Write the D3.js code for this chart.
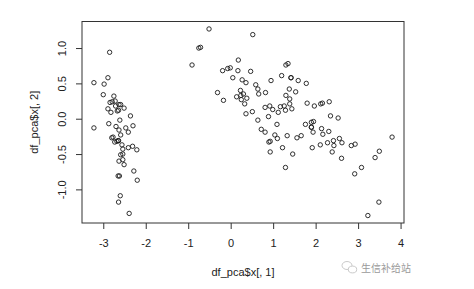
<!doctype html>
<html lang="zh">
<head>
  <meta charset="utf-8">
  <title>df_pca$x</title>
  <style type="text/css">
    body{
      margin:0;
      background:#fff;
    }
    text{
      font-size:11px;
      font-family: "Liberation Sans", Arial, Helvetica, sans-serif;
      fill:#222;
    }
    .pts circle{
      fill:none;
      stroke:#1a1a1a;
      stroke-width:0.9;
    }
    .tick line{
      stroke:#333;
    }
    .wm{
      font-family:"Noto Sans CJK SC", sans-serif;
      font-size:10px;
      fill:#9a9a9a;
    }
  </style>
</head>
<body>
  <div id="vis"></div>
  <script src="https://d3js.org/d3.v7.min.js"></script>
  <script type="text/javascript">

    var width = 474,
      height = 289;

    // scores (PC1 / PC2)
    var pc1 = [
      -2.68,-2.71,-2.89,-2.75,-2.73,-2.28,-2.82,-2.63,-2.89,-2.67,
      -2.51,-2.61,-2.79,-3.22,-2.64,-2.39,-2.62,-2.65,-2.20,-2.59,
      -2.31,-2.54,-3.22,-2.30,-2.36,-2.51,-2.47,-2.56,-2.64,-2.63,
      -2.59,-2.41,-2.65,-2.60,-2.64,-2.87,-2.63,-2.80,-2.98,-2.59,
      -2.77,-2.85,-3.00,-2.41,-2.21,-2.72,-2.54,-2.84,-2.54,-2.70,
      1.29,0.93,1.46,0.18,1.09,0.64,1.10,-0.75,1.04,-0.01,
      -0.51,0.51,0.27,0.99,-0.17,0.93,0.66,0.24,0.95,0.05,
      1.12,0.36,1.30,0.92,0.72,0.90,1.33,1.56,0.81,-0.31,
      -0.07,-0.19,0.14,1.38,0.59,0.81,1.22,0.82,0.25,0.17,
      0.47,0.89,0.23,-0.71,0.36,0.33,0.38,0.64,-0.91,0.30,
      2.53,1.42,2.62,1.97,2.35,3.40,0.52,2.93,2.32,2.92,
      1.66,1.80,2.17,1.35,1.59,1.90,1.95,3.49,3.80,1.30,
      2.43,1.20,3.50,1.39,2.28,2.61,1.26,1.29,2.12,2.39,
      2.84,3.23,2.16,1.44,1.78,3.08,2.14,1.90,1.17,2.11,
      2.31,1.92,1.42,2.56,2.42,1.94,1.53,1.76,1.90,1.39
    ];
    var pc2 = [
      -0.32,0.18,0.14,0.32,-0.33,-0.74,0.09,-0.16,0.58,0.11,
      -0.65,-0.02,0.24,0.51,-1.18,-1.34,-0.81,-0.31,-0.87,-0.51,
      -0.39,-0.43,-0.13,-0.10,0.04,0.15,-0.13,-0.37,-0.31,0.20,
      0.20,-0.41,-0.81,-1.09,0.12,-0.07,-0.60,-0.27,0.49,-0.23,
      -0.26,0.94,0.34,-0.19,-0.44,0.25,-0.50,0.23,-0.58,-0.11,
      -0.69,-0.32,-0.50,0.83,-0.08,0.42,-0.28,1.00,-0.23,0.72,
      1.27,0.10,0.55,0.13,0.26,-0.47,0.35,0.33,0.54,0.58,
      0.09,0.07,0.33,0.18,-0.15,-0.33,-0.24,-0.27,0.16,0.37,
      0.71,0.68,0.31,0.42,0.48,-0.19,-0.41,0.37,0.27,0.68,
      0.67,0.03,0.40,1.01,0.51,0.21,0.29,-0.02,0.76,0.35,
      0.01,0.58,-0.34,0.18,0.04,-0.55,1.19,-0.36,0.24,-0.78,
      -0.24,0.22,-0.22,0.78,0.54,-0.12,-0.04,-1.18,-0.26,0.76,
      -0.38,0.61,-0.46,0.21,-0.34,-0.56,0.18,0.12,0.21,-0.47,
      -0.38,-1.37,0.22,0.14,0.50,-0.69,-0.14,-0.05,0.17,-0.37,
      -0.18,-0.41,0.58,-0.28,-0.31,-0.19,0.38,-0.08,-0.12,0.28
    ];

    var xTicks = [-3,-2,-1,0,1,2,3,4],
      yTicks = [-1.0,-0.5,0.0,0.5,1.0];

    var xTitle = 'df_pca$x[, 1]',
      yTitle = 'df_pca$x[, 2]',
      watermark = '生信补给站';

    var box = {left:82, right:404, top:21.5, bottom:223};

    // R pads the data range by 4% on each side
    function pad(ext){
      var r = ext[1]-ext[0];
      return [ext[0]-r*0.04, ext[1]+r*0.04];
    }

    var x = d3.scaleLinear().domain(pad(d3.extent(pc1))).range([box.left, box.right]);
    var y = d3.scaleLinear().domain(pad(d3.extent(pc2))).range([box.bottom, box.top]);

    var svg = d3.select('#vis').append('svg')
      .attr('width', width)
      .attr('height', height);

    // x axis
    var xAxis = svg.append('g')
      .attr('transform', 'translate(0,'+box.bottom+')')
      .call(d3.axisBottom(x).tickValues(xTicks).tickSize(6).tickPadding(10)
        .tickFormat(function(d){ return String(d); }));
    xAxis.select('.domain').remove();
    xAxis.selectAll('text').style('fill', '#222');

    // y axis, labels turned like R does
    var yAxis = svg.append('g')
      .attr('transform', 'translate('+box.left+',0)')
      .call(d3.axisLeft(y).tickValues(yTicks).tickSize(6)
        .tickFormat(function(d){ return d.toFixed(1); }));
    yAxis.select('.domain').remove();
    yAxis.selectAll('.tick text')
      .attr('x', 0)
      .attr('dy', '0.35em')
      .attr('text-anchor', 'middle')
      .attr('transform', 'translate(-20,0) rotate(-90)')
      .style('fill', '#222');

    // plot box
    svg.append('rect')
      .attr('x', box.left)
      .attr('y', box.top)
      .attr('width', box.right-box.left)
      .attr('height', box.bottom-box.top)
      .style('fill', 'none')
      .style('stroke', '#333')
      .style('stroke-width', 1);

    // points
    svg.append('g')
      .attr('class', 'pts')
      .selectAll('circle')
      .data(pc1)
      .enter().append('circle')
        .attr('cx', function(d){ return x(d); })
        .attr('cy', function(d,i){ return y(pc2[i]); })
        .attr('r', 2.2);

    // titles
    svg.append('text')
      .attr('x', (box.left+box.right)/2)
      .attr('y', 275.5)
      .attr('text-anchor', 'middle')
      .text(xTitle);

    svg.append('text')
      .attr('transform', 'translate(38,'+((box.top+box.bottom)/2)+') rotate(-90)')
      .attr('text-anchor', 'middle')
      .text(yTitle);

    // watermark
    var wm = svg.append('g').style('fill', '#fff').style('stroke', '#bdbdbd').style('stroke-width', 0.8);
    wm.append('ellipse').attr('cx', 347).attr('cy', 265.5).attr('rx', 5).attr('ry', 4);
    wm.append('ellipse').attr('cx', 352.5).attr('cy', 269.5).attr('rx', 4.2).attr('ry', 3.4);

    svg.append('text')
      .attr('class', 'wm')
      .attr('x', 361)
      .attr('y', 271.5)
      .text(watermark);

  </script>
</body>
</html>
